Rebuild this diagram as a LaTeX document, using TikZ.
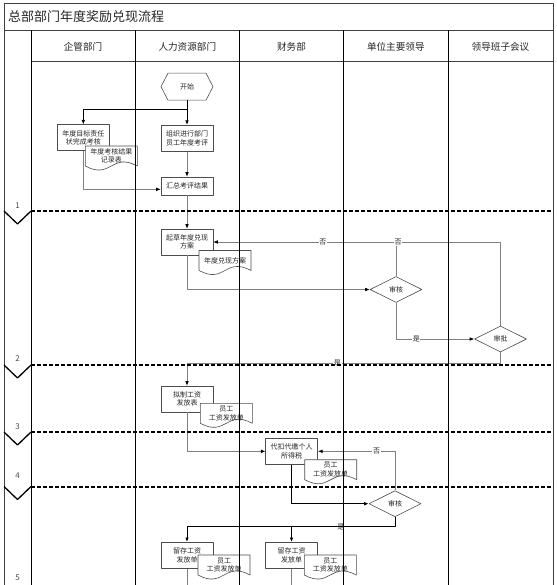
\documentclass[tikz,border=0pt]{standalone}
\usepackage{fontspec}
\setmainfont{Noto Sans CJK SC}
\usetikzlibrary{arrows.meta,shapes.geometric}
\definecolor{linegray}{HTML}{7F7F7F}
\definecolor{boxgray}{HTML}{4D4D4D}
\definecolor{textgray}{HTML}{262626}
\tikzset{
	box/.style={draw=boxgray, fill=white, line width=0.6pt, minimum width=52pt, minimum height=26pt, inner sep=1pt, align=center, font=\fontsize{7}{8.5}\selectfont, text=textgray},
	decide/.style={diamond, draw=boxgray, fill=white, line width=0.6pt, minimum width=52pt, minimum height=26pt, inner sep=0pt, font=\fontsize{7}{8.5}\selectfont, text=textgray},
	doctext/.style={minimum width=52pt, minimum height=20pt, inner sep=1pt, align=center, font=\fontsize{7}{8.5}\selectfont, text=textgray},
	docline/.style={draw=boxgray, fill=white, line width=0.6pt},
	flow/.style={draw=linegray, line width=0.6pt, ->},
	mainflow/.style={draw=black, line width=1pt, ->},
	lbl/.style={fill=white, inner sep=0.6pt, font=\fontsize{7}{8}\selectfont, text=textgray},
	laneline/.style={draw=black, line width=1pt},
	frameline/.style={draw=black!75, line width=0.8pt},
	phase/.style={draw=black, line width=2pt, line cap=butt, dash pattern=on 4pt off 2pt},
	chev/.style={draw=black, line width=1.3pt},
	head/.style={font=\fontsize{9.6}{11}\selectfont, text=textgray},
	num/.style={font=\fontsize{8}{9}\selectfont, text=black!70}
}
% document symbol: body with a wavy bottom, then its (named) text node
\newcommand{\docnode}[3]{%
	\draw[docline, shift={(#2)}] (-26,-10) -- (26,-10) -- (26,10) .. controls (0,-4) and (0,24) .. (-26,10) -- cycle;
	\node[doctext] (#1) at (#2) {#3};
}
\begin{document}
\begin{tikzpicture}[x=1pt, y=-1pt, line join=round, >={Latex[length=4.5pt,width=3.6pt,color=black]}]
	\useasboundingbox (0,0) rectangle (556,585);
	\clip (0,0) rectangle (556,585);
	\fill[white] (0,0) rectangle (556,585);
	
	% nodes
	\node[box, minimum height=27pt, draw=none, fill=none] (start) at (187,86.7) {开始};
	\draw[docline, shift={(start.center)}] (-26,0) -- (-19,-13.5) -- (19,-13.5) -- (26,0) -- (19,13.5) -- (-19,13.5) -- cycle;
	\node[box, draw=none, fill=none] at (start) {开始};
	\node[box] (org) at (187,138.3) {组织进行部门\\员工年度考评};
	\node[box] (tgt) at (83.3,137.8) {年度目标责任\\状完成考核};
	\node[box, minimum height=18pt] (sum) at (187,186) {汇总考评结果};
	\node[box] (draft) at (187,242) {起草年度兑现\\方案};
	\node[decide] (chk1) at (396,289.5) {审核};
	\node[decide] (appr) at (500.5,339) {审批};
	\node[box] (wage) at (187,399) {拟制工资\\发放表};
	\node[box] (tax) at (291.7,451.3) {代扣代缴个人\\所得税};
	\node[decide] (chk2) at (395,503.7) {审核};
	\node[box] (keep1) at (187,555.3) {留存工资\\发放单};
	\node[box] (keep2) at (291.5,555.3) {留存工资\\发放单};
	
	% connectors
	\draw[mainflow] (start.south) -- (org.north);
	\draw[mainflow] (start.south) ++(0,9) -| (tgt.north);
	\draw[flow] (org.south) -- (sum.north);
	\draw[flow] (tgt.south) |- ([yshift=-3.3pt]sum.west);
	\draw[flow] (sum.south) -- (draft.north);
	\draw[flow] (draft.south) |- (chk1.west);
	\draw[flow] (chk1.north) |- (draft.east) node[lbl, pos=0.70] {否};
	\draw[flow, -] (appr.north) |- (chk1.north |- draft.east) node[lbl, pos=0.99] {否};
	\draw[flow] (chk1.south) |- (appr.west) node[lbl, pos=0.63] {是};
	\draw[flow] (appr.south) -- ++(0,10.8) -| (wage.north) node[lbl, pos=0.26] {是};
	\draw[flow] (wage.south) |- (tax.west);
	\draw[mainflow] (tax.south) |- (chk2.west);
	\draw[flow] (chk2.north) |- (tax.east) node[lbl, pos=0.62] {否};
	\draw[mainflow] (chk2.south) -- ++(0,9.6) -| (keep1.north) node[lbl, pos=0.13] {是};
	\draw[mainflow] (chk2.south) ++(0,9.6) -| (keep2.north);
	\draw[flow, -] (keep1.south) -- ++(0,30);
	\draw[flow, -] (keep2.south) -- ++(0,30);
	
	% documents
	\docnode{rec}{111.3,156}{年度考核结果\\记录表}
	\docnode{plan}{225,260.5}{年度兑现方案}
	\docnode{slip1}{226.3,413.3}{员工\\工资发放单}
	\docnode{slip2}{330.7,469.7}{员工\\工资发放单}
	\docnode{slip3}{224,565}{员工\\工资发放单}
	\docnode{slip4}{330.3,565}{员工\\工资发放单}
	
	% frame, lanes and phases
	\draw[frameline] (4,3) rectangle (553,620);
	\draw[frameline] (4,30.5) -- (553,30.5);
	\draw[frameline] (31,61) -- (553,61);
	\foreach \x in {31,135,239.5,343.5,448}
		\draw[laneline] (\x,30.5) -- (\x,620);
	\node[anchor=west, font=\fontsize{13}{15}\selectfont, text=textgray] (title) at (4.5,16.5) {总部部门年度奖励兑现流程};
	\foreach \x/\t [count=\i] in {83/企管部门, 187.3/人力资源部门, 291.5/财务部, 395.8/单位主要领导, 500.5/领导班子会议}
		\node[head] (h\i) at (\x,46.5) {\t};
	\foreach \y/\ly/\n in {211/205.5/1, 365/359/2, 432/427/3, 486.5/476/4, 595/578/5}{
		\draw[phase] (31,\y) -- (553,\y);
		\draw[chev] (4,\y) -- (17.5,\y+13) -- (31,\y);
		\node[num] (p\n) at (17.5,\ly) {\n};
	}
\end{tikzpicture}
\end{document}
